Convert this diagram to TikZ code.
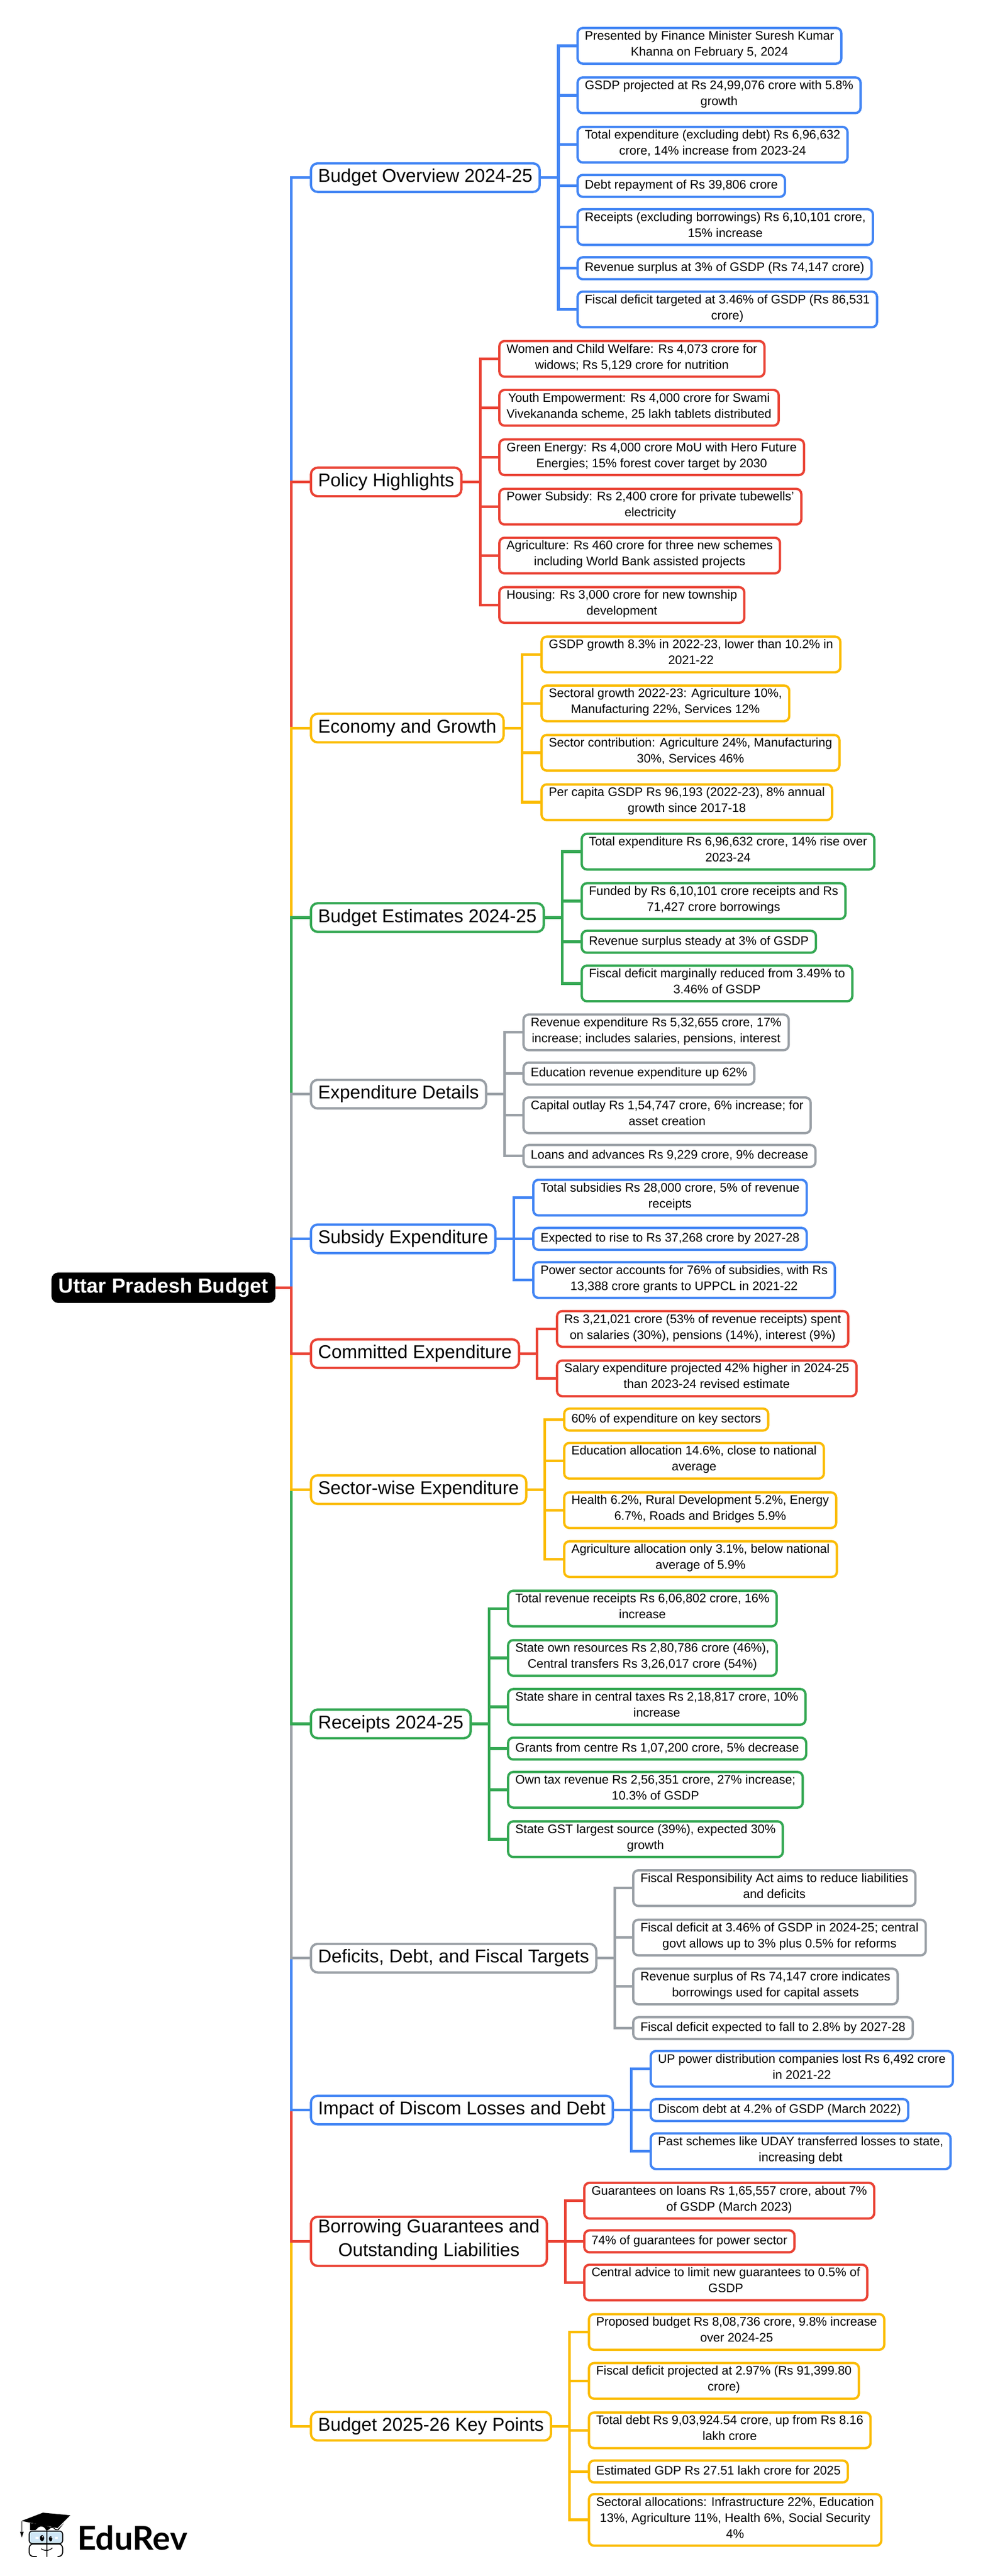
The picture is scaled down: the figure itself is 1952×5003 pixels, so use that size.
\documentclass[tikz,border=0pt]{standalone}
\usepackage{fontspec}
\setmainfont{Liberation Sans}
\newfontfamily\logofont{Lato}
\definecolor{gblue}{HTML}{4285F4}
\definecolor{gred}{HTML}{EA4335}
\definecolor{gyellow}{HTML}{FBBC04}
\definecolor{ggreen}{HTML}{34A853}
\definecolor{ggrey}{HTML}{9AA0A6}
\definecolor{logoblue}{HTML}{CFE6F5}
\tikzset{
  leafbox/.style={draw=#1, fill=white, line width=4.5pt, rounded corners=10pt, anchor=west, align=center,
    inner xsep=14pt, inner ysep=5.75pt, outer sep=0pt, font=\fontsize{24}{31}\selectfont,
    execute at begin node=\strut, execute at end node=\strut},
  mainbox/.style={draw=#1, fill=white, line width=4.5pt, rounded corners=13pt, anchor=west, align=center,
    inner xsep=14pt, inner ysep=4.75pt, outer sep=0pt, font=\fontsize{36}{46}\selectfont,
    execute at begin node=\strut, execute at end node=\strut},
  link/.style={draw=#1, line width=5.3pt},
}
\begin{document}
\begin{tikzpicture}[x=1pt,y=-1pt]
  \useasboundingbox (0,0) rectangle (1952,5003);
  % Root on the left
  \node[fill=black,text=white,rounded corners=13pt,anchor=west,inner xsep=14pt,inner ysep=0pt,outer sep=0pt,minimum height=59pt,
    font=\fontsize{39.6}{46}\selectfont\bfseries] (root) at (100,2501) {Uttar Pradesh Budget};
  \coordinate (trunk) at (566,2501);

  % Budget Overview 2024-25
  \node[mainbox=gblue] (overview) at (604,345) {Budget Overview 2024-25};
  \coordinate (busA) at (1084.5,345);
  \node[leafbox=gblue] (ovA) at (1122,89) {Presented by Finance Minister Suresh Kumar\\Khanna on February 5, 2024};
  \node[leafbox=gblue] (ovB) at (1122,185) {GSDP projected at Rs 24,99,076 crore with 5.8\%\\growth};
  \node[leafbox=gblue] (ovC) at (1122,281) {Total expenditure (excluding debt) Rs 6,96,632\\crore, 14\% increase from 2023-24};
  \node[leafbox=gblue] (ovD) at (1122,361) {Debt repayment of Rs 39,806 crore};
  \node[leafbox=gblue] (ovE) at (1122,441) {Receipts (excluding borrowings) Rs 6,10,101 crore,\\15\% increase};
  \node[leafbox=gblue] (ovF) at (1122,521) {Revenue surplus at 3\% of GSDP (Rs 74,147 crore)};
  \node[leafbox=gblue] (ovG) at (1122,601) {Fiscal deficit targeted at 3.46\% of GSDP (Rs 86,531\\crore)};
  \foreach \leaf in {ovA,ovB,ovC,ovD,ovE,ovF,ovG}
    \draw[link=gblue] (overview.east) -- (busA) |- (\leaf.west);

  % Policy Highlights
  \node[mainbox=gred] (policy) at (604,936) {Policy Highlights};
  \coordinate (busB) at (933,936);
  \node[leafbox=gred] (poA) at (970,697) {Women and Child Welfare: Rs 4,073 crore for\\widows; Rs 5,129 crore for nutrition};
  \node[leafbox=gred] (poB) at (970,792) {Youth Empowerment: Rs 4,000 crore for Swami\\Vivekananda scheme, 25 lakh tablets distributed};
  \node[leafbox=gred] (poC) at (970,888) {Green Energy: Rs 4,000 crore MoU with Hero Future\\Energies; 15\% forest cover target by 2030};
  \node[leafbox=gred] (poD) at (970,984) {Power Subsidy: Rs 2,400 crore for private tubewells'\\electricity};
  \node[leafbox=gred] (poE) at (970,1079) {Agriculture: Rs 460 crore for three new schemes\\including World Bank assisted projects};
  \node[leafbox=gred] (poF) at (970,1175) {Housing: Rs 3,000 crore for new township\\development};
  \foreach \leaf in {poA,poB,poC,poD,poE,poF}
    \draw[link=gred] (policy.east) -- (busB) |- (\leaf.west);

  % Economy and Growth
  \node[mainbox=gyellow] (economy) at (604,1414) {Economy and Growth};
  \coordinate (busC) at (1014,1414);
  \node[leafbox=gyellow] (ecA) at (1052,1271) {GSDP growth 8.3\% in 2022-23, lower than 10.2\% in\\2021-22};
  \node[leafbox=gyellow] (ecB) at (1052,1366) {Sectoral growth 2022-23: Agriculture 10\%,\\Manufacturing 22\%, Services 12\%};
  \node[leafbox=gyellow] (ecC) at (1052,1462) {Sector contribution: Agriculture 24\%, Manufacturing\\30\%, Services 46\%};
  \node[leafbox=gyellow] (ecD) at (1052,1558) {Per capita GSDP Rs 96,193 (2022-23), 8\% annual\\growth since 2017-18};
  \foreach \leaf in {ecA,ecB,ecC,ecD}
    \draw[link=gyellow] (economy.east) -- (busC) |- (\leaf.west);

  % Budget Estimates 2024-25
  \node[mainbox=ggreen] (estimates) at (604,1782) {Budget Estimates 2024-25};
  \coordinate (busD) at (1092,1782);
  \node[leafbox=ggreen] (esA) at (1130,1654) {Total expenditure Rs 6,96,632 crore, 14\% rise over\\2023-24};
  \node[leafbox=ggreen] (esB) at (1130,1750) {Funded by Rs 6,10,101 crore receipts and Rs\\71,427 crore borrowings};
  \node[leafbox=ggreen] (esC) at (1130,1829) {Revenue surplus steady at 3\% of GSDP};
  \node[leafbox=ggreen] (esD) at (1130,1910) {Fiscal deficit marginally reduced from 3.49\% to\\3.46\% of GSDP};
  \foreach \leaf in {esA,esB,esC,esD}
    \draw[link=ggreen] (estimates.east) -- (busD) |- (\leaf.west);

  % Expenditure Details
  \node[mainbox=ggrey] (details) at (604,2125) {Expenditure Details};
  \coordinate (busE) at (980,2125);
  \node[leafbox=ggrey] (deA) at (1017,2005) {Revenue expenditure Rs 5,32,655 crore, 17\%\\increase; includes salaries, pensions, interest};
  \node[leafbox=ggrey] (deB) at (1017,2085) {Education revenue expenditure up 62\%};
  \node[leafbox=ggrey] (deC) at (1017,2166) {Capital outlay Rs 1,54,747 crore, 6\% increase; for\\asset creation};
  \node[leafbox=ggrey] (deD) at (1017,2245) {Loans and advances Rs 9,229 crore, 9\% decrease};
  \foreach \leaf in {deA,deB,deC,deD}
    \draw[link=ggrey] (details.east) -- (busE) |- (\leaf.west);

  % Subsidy Expenditure
  \node[mainbox=gblue] (subsidy) at (604,2406) {Subsidy Expenditure};
  \coordinate (busF) at (998,2406);
  \node[leafbox=gblue] (suA) at (1036,2326) {Total subsidies Rs 28,000 crore, 5\% of revenue\\receipts};
  \node[leafbox=gblue] (suB) at (1036,2406) {Expected to rise to Rs 37,268 crore by 2027-28};
  \node[leafbox=gblue] (suC) at (1036,2486) {Power sector accounts for 76\% of subsidies, with Rs\\13,388 crore grants to UPPCL in 2021-22};
  \foreach \leaf in {suA,suB,suC}
    \draw[link=gblue] (subsidy.east) -- (busF) |- (\leaf.west);

  % Committed Expenditure
  \node[mainbox=gred] (committed) at (604,2629) {Committed Expenditure};
  \coordinate (busG) at (1043,2629);
  \node[leafbox=gred] (coA) at (1082,2581) {Rs 3,21,021 crore (53\% of revenue receipts) spent\\on salaries (30\%), pensions (14\%), interest (9\%)};
  \node[leafbox=gred] (coB) at (1082,2677) {Salary expenditure projected 42\% higher in 2024-25\\than 2023-24 revised estimate};
  \foreach \leaf in {coA,coB}
    \draw[link=gred] (committed.east) -- (busG) |- (\leaf.west);

  % Sector-wise Expenditure
  \node[mainbox=gyellow] (sector) at (604,2893) {Sector-wise Expenditure};
  \coordinate (busH) at (1058,2893);
  \node[leafbox=gyellow] (seA) at (1096,2757) {60\% of expenditure on key sectors};
  \node[leafbox=gyellow] (seB) at (1096,2837) {Education allocation 14.6\%, close to national\\average};
  \node[leafbox=gyellow] (seC) at (1096,2933) {Health 6.2\%, Rural Development 5.2\%, Energy\\6.7\%, Roads and Bridges 5.9\%};
  \node[leafbox=gyellow] (seD) at (1096,3028) {Agriculture allocation only 3.1\%, below national\\average of 5.9\%};
  \foreach \leaf in {seA,seB,seC,seD}
    \draw[link=gyellow] (sector.east) -- (busH) |- (\leaf.west);

  % Receipts 2024-25
  \node[mainbox=ggreen] (receipts) at (604,3348) {Receipts 2024-25};
  \coordinate (busI) at (950,3348);
  \node[leafbox=ggreen] (reA) at (987,3124) {Total revenue receipts Rs 6,06,802 crore, 16\%\\increase};
  \node[leafbox=ggreen] (reB) at (987,3220) {State own resources Rs 2,80,786 crore (46\%),\\Central transfers Rs 3,26,017 crore (54\%)};
  \node[leafbox=ggreen] (reC) at (987,3315) {State share in central taxes Rs 2,18,817 crore, 10\%\\increase};
  \node[leafbox=ggreen] (reD) at (987,3396) {Grants from centre Rs 1,07,200 crore, 5\% decrease};
  \node[leafbox=ggreen] (reE) at (987,3476) {Own tax revenue Rs 2,56,351 crore, 27\% increase;\\10.3\% of GSDP};
  \node[leafbox=ggreen] (reF) at (987,3572) {State GST largest source (39\%), expected 30\%\\growth};
  \foreach \leaf in {reA,reB,reC,reD,reE,reF}
    \draw[link=ggreen] (receipts.east) -- (busI) |- (\leaf.west);

  % Deficits, Debt, and Fiscal Targets
  \node[mainbox=ggrey] (deficits) at (604,3803) {Deficits, Debt, and Fiscal Targets};
  \coordinate (busJ) at (1194,3803);
  \node[leafbox=ggrey] (dfA) at (1230,3667) {Fiscal Responsibility Act aims to reduce liabilities\\and deficits};
  \node[leafbox=ggrey] (dfB) at (1230,3763) {Fiscal deficit at 3.46\% of GSDP in 2024-25; central\\govt allows up to 3\% plus 0.5\% for reforms};
  \node[leafbox=ggrey] (dfC) at (1230,3858) {Revenue surplus of Rs 74,147 crore indicates\\borrowings used for capital assets};
  \node[leafbox=ggrey] (dfD) at (1230,3939) {Fiscal deficit expected to fall to 2.8\% by 2027-28};
  \foreach \leaf in {dfA,dfB,dfC,dfD}
    \draw[link=ggrey] (deficits.east) -- (busJ) |- (\leaf.west);

  % Impact of Discom Losses and Debt
  \node[mainbox=gblue] (impact) at (604,4098) {Impact of Discom Losses and Debt};
  \coordinate (busK) at (1226,4098);
  \node[leafbox=gblue] (imA) at (1264,4018) {UP power distribution companies lost Rs 6,492 crore\\in 2021-22};
  \node[leafbox=gblue] (imB) at (1264,4098) {Discom debt at 4.2\% of GSDP (March 2022)};
  \node[leafbox=gblue] (imC) at (1264,4178) {Past schemes like UDAY transferred losses to state,\\increasing debt};
  \foreach \leaf in {imA,imB,imC}
    \draw[link=gblue] (impact.east) -- (busK) |- (\leaf.west);

  % Borrowing Guarantees and Outstanding Liabilities
  \node[mainbox=gred] (borrowing) at (604,4353) {Borrowing Guarantees and\\Outstanding Liabilities};
  \coordinate (busL) at (1098,4353);
  \node[leafbox=gred] (boA) at (1135,4274) {Guarantees on loans Rs 1,65,557 crore, about 7\%\\of GSDP (March 2023)};
  \node[leafbox=gred] (boB) at (1135,4353) {74\% of guarantees for power sector};
  \node[leafbox=gred] (boC) at (1135,4433) {Central advice to limit new guarantees to 0.5\% of\\GSDP};
  \foreach \leaf in {boA,boB,boC}
    \draw[link=gred] (borrowing.east) -- (busL) |- (\leaf.west);

  % Budget 2025-26 Key Points
  \node[mainbox=gyellow] (keypoints) at (604,4712) {Budget 2025-26 Key Points};
  \coordinate (busM) at (1106,4712);
  \node[leafbox=gyellow] (kpA) at (1144,4529) {Proposed budget Rs 8,08,736 crore, 9.8\% increase\\over 2024-25};
  \node[leafbox=gyellow] (kpB) at (1144,4624) {Fiscal deficit projected at 2.97\% (Rs 91,399.80\\crore)};
  \node[leafbox=gyellow] (kpC) at (1144,4720) {Total debt Rs 9,03,924.54 crore, up from Rs 8.16\\lakh crore};
  \node[leafbox=gyellow] (kpD) at (1144,4800) {Estimated GDP Rs 27.51 lakh crore for 2025};
  \node[leafbox=gyellow] (kpE) at (1144,4894) {Sectoral allocations: Infrastructure 22\%, Education\\13\%, Agriculture 11\%, Health 6\%, Social Security\\4\%};
  \foreach \leaf in {kpA,kpB,kpC,kpD,kpE}
    \draw[link=gyellow] (keypoints.east) -- (busM) |- (\leaf.west);

  % Trunk: upper branches, then lower ones from the far end back
  \draw[link=gblue] (root.east) -- (trunk) |- (overview.west);
  \draw[link=gred] (root.east) -- (trunk) |- (policy.west);
  \draw[link=gyellow] (root.east) -- (trunk) |- (economy.west);
  \draw[link=ggreen] (root.east) -- (trunk) |- (estimates.west);
  \draw[link=ggrey] (root.east) -- (trunk) |- (details.west);
  \draw[link=gblue] (root.east) -- (trunk) |- (subsidy.west);
  \draw[link=gyellow] (root.east) -- (trunk) |- (keypoints.west);
  \draw[link=gred] (root.east) -- (trunk) |- (borrowing.west);
  \draw[link=gblue] (root.east) -- (trunk) |- (impact.west);
  \draw[link=ggrey] (root.east) -- (trunk) |- (deficits.west);
  \draw[link=ggreen] (root.east) -- (trunk) |- (receipts.west);
  \draw[link=gyellow] (root.east) -- (trunk) |- (sector.west);
  \draw[link=gred] (root.east) -- (trunk) |- (committed.west);

  % Logo word
  \node[anchor=base west,inner sep=0pt,font=\fontsize{64}{64}\logofont\bfseries] (logo) at (150,4952) {EduRev};
  % Logo icon
  \begin{scope}[shift={(30,4870)},x=0.3333pt,y=-0.3333pt]
    \fill (35,78) -- (160,30) -- (320,45) -- (245,120) -- cycle;
    \fill (85,90) -- (85,132) -- (250,132) -- (282,92) -- (245,128) -- (160,100) -- cycle;
    \fill[white] (118,132) .. controls (130,100) and (165,100) .. (178,132) -- cycle;
    \fill[white] (192,132) .. controls (200,112) and (222,112) .. (232,132) -- cycle;
    \draw[line width=1.5pt] (122,125) .. controls (135,103) and (160,103) .. (175,120);
    \draw[line width=1.5pt] (195,125) .. controls (205,113) and (220,113) .. (230,125);
    \draw[line width=1.5pt] (37,80) -- (37,142);
    \fill (27,142) -- (48,142) -- (37,174) -- cycle;
    \draw[line width=2pt,fill=logoblue,rounded corners=6pt] (80,137) rectangle (275,210);
    \draw[line width=2pt,rounded corners=8pt] (125,285) -- (80,285) -- (80,212) -- (275,212) -- (275,285) -- (245,285);
    \draw[line width=2.5pt] (183,130) -- (183,288);
    \fill (155,178) ellipse [x radius=12,y radius=18];
    \fill (205,182) ellipse [x radius=10,y radius=15];
    \fill[white] (158,170) circle [radius=3.5];
    \fill[white] (208,175) circle [radius=3];
    \fill[white] (118,172) rectangle (134,184);
    \fill[white] (230,170) rectangle (246,182);
    \draw[line width=1.5pt] (150,240) .. controls (170,255) and (200,252) .. (215,235);
  \end{scope}
\end{tikzpicture}
\end{document}
